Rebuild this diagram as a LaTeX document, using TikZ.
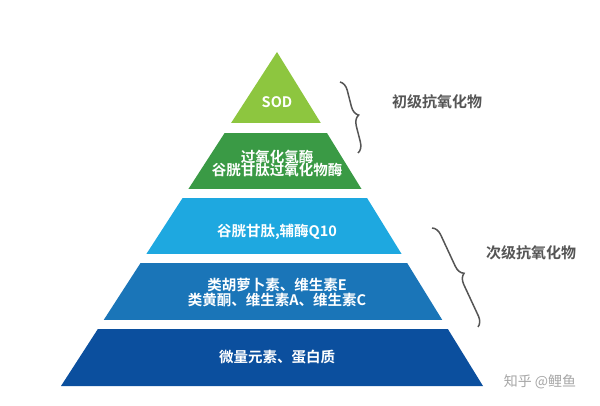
\documentclass[tikz,border=0pt]{standalone}
\usepackage{fontspec}
\setmainfont{Noto Sans CJK SC}
\newfontfamily\cjkb{Noto Sans CJK SC Bold}
\usetikzlibrary{decorations.pathreplacing}
\definecolor{c1}{HTML}{8DC63F}
\definecolor{c2}{HTML}{3A9A45}
\definecolor{c3}{HTML}{1EA8E0}
\definecolor{c4}{HTML}{1A75B8}
\definecolor{c5}{HTML}{0B4F9E}
\definecolor{gr}{HTML}{555555}
\tikzset{lay/.style={text=white,font=\cjkb\fontsize{14.5}{17}\selectfont,align=center},
 side/.style={text=gr,font=\cjkb\fontsize{15}{17}\selectfont},
 br/.style={draw=gr,line width=1.5pt,decorate,decoration={brace,amplitude=10pt}}}
\begin{document}
\begin{tikzpicture}[x=1pt,y=-1pt]
\useasboundingbox (0,0) rectangle (600,406);
\def\band#1#2#3{\begin{scope}\clip (0,#1) rectangle (600,#2);
\fill[#3] (277,52) -- (61,386) -- (483,386) -- cycle;\end{scope}}
\band{52}{123}{c1}
\band{134}{189}{c2}
\band{199}{254}{c3}
\band{264}{319}{c4}
\band{329}{386}{c5}
\node[lay] (l1) at (277,102) {SOD};
\node[lay] (l2) at (277,163) {过氧化氢酶\\[-4pt]谷胱甘肽过氧化物酶};
\node[lay] (l3) at (277,232) {谷胱甘肽,辅酶Q10};
\node[lay] (l4) at (277,292) {类胡萝卜素、维生素E\\[-2pt]类黄酮、维生素A、维生素C};
\node[lay] (l5) at (277,357) {微量元素、蛋白质};
\coordinate (b1t) at (340,82); \coordinate (b1b) at (358,153);
\coordinate (b2t) at (432,228); \coordinate (b2b) at (478,327);
\draw[br] (b1t) -- (b1b);
\draw[br] (b2t) -- (b2b);
\node[side] (s1) at (437,102) {初级抗氧化物};
\node[side] (s2) at (531,253) {次级抗氧化物};
\node[text=gray!70,font=\fontsize{14}{16}\selectfont] (wm) at (540,382) {知乎 @鲤鱼};
\end{tikzpicture}
\end{document}
